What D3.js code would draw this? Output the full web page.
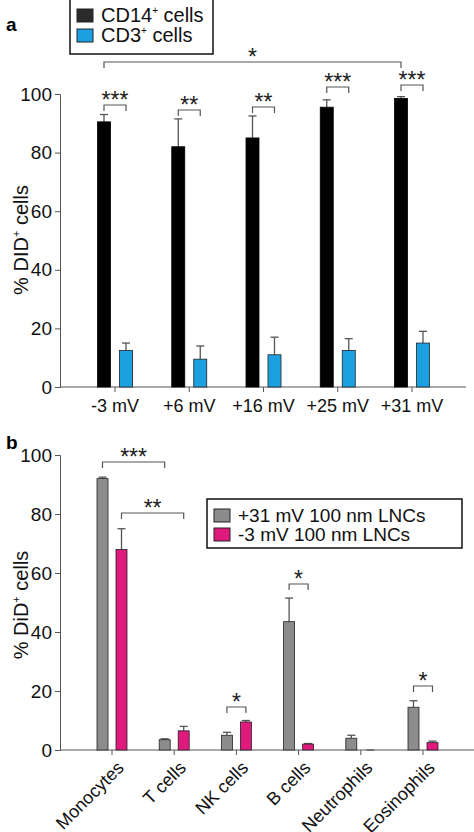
<!DOCTYPE html>
<html><head><meta charset="utf-8">
<script src="https://cdn.jsdelivr.net/npm/d3@7"></script>
<style>body{margin:0;background:#fff}text{font-family:Arial,"Liberation Sans",sans-serif}</style>
</head><body><div id="view"></div>
<script>
// panel a data
var catsA = ["-3 mV","+6 mV","+16 mV","+25 mV","+31 mV"];
var cd14 = [90.5, 82, 85, 95.5, 98.5];
var cd14Err = [2.5, 9.5, 7.5, 2.5, 0.6];
var cd3 = [12.5, 9.5, 11, 12.5, 15];
var cd3Err = [2.5, 4.5, 6, 4, 4];
var sigA = ["***","**","**","***","***"];
var sigAy = [105, 110, 107, 87, 85];
// panel b data
var catsB = ["Monocytes","T cells","NK cells","B cells","Neutrophils","Eosinophils"];
var pos31 = [92, 3.5, 5, 43.5, 4, 14.5];
var pos31Err = [0.5, 0.3, 1, 8, 1, 2.2];
var neg3 = [68, 6.5, 9.5, 2, 0, 2.5];
var neg3Err = [7, 1.5, 0.5, 0.2, 0, 0.5];
var ticks = [0, 20, 40, 60, 80, 100];

var svg = d3.select("#view").append("svg").attr("width", 474).attr("height", 832);
var ink = "#555";

function panel(o) {
	var g = svg.append("g");
	var x = d3.scalePoint().domain(o.cats).range([o.x0, o.x1]);
	var y = d3.scaleLinear().domain([0, 100]).range([o.yb, o.yt]);
	// y axis
	var ya = g.append("g").attr("transform", "translate(60,0)")
		.call(d3.axisLeft(y).tickValues(ticks).tickSize(5).tickPadding(3));
	ya.selectAll("text").style("font-size", "19px").attr("fill", "#111");
	ya.selectAll("line,path").attr("stroke", ink);
	// x axis line + ticks
	g.append("line").attr("x1", 60).attr("x2", o.xe).attr("y1", y(0)).attr("y2", y(0)).attr("stroke", ink);
	g.selectAll(".xt").data(o.cats).enter().append("line")
		.attr("x1", function(d){return x(d);}).attr("x2", function(d){return x(d);})
		.attr("y1", y(0)).attr("y2", y(0) + 5).attr("stroke", ink);
	// bars
	[[o.s1, o.e1, o.c1, -o.off], [o.s2, o.e2, o.c2, o.off]].forEach(function(s) {
		var bw = o.bw;
		g.selectAll(null).data(o.cats).enter().append("line")
			.attr("x1", function(d){return x(d)+s[3];}).attr("x2", function(d){return x(d)+s[3];})
			.attr("y1", function(d,i){return y(s[0][i]);}).attr("y2", function(d,i){return y(s[0][i]+s[1][i]);})
			.attr("stroke", ink).attr("stroke-width", 1.3);
		g.selectAll(null).data(o.cats).enter().append("line")
			.attr("x1", function(d){return x(d)+s[3]-4;}).attr("x2", function(d){return x(d)+s[3]+4;})
			.attr("y1", function(d,i){return y(s[0][i]+s[1][i]);}).attr("y2", function(d,i){return y(s[0][i]+s[1][i]);})
			.attr("stroke", ink).attr("stroke-width", 1.3);
		g.selectAll(null).data(o.cats).enter().append("rect")
			.attr("x", function(d){return x(d)+s[3]-bw/2;}).attr("width", bw)
			.attr("y", function(d,i){return y(s[0][i]);})
			.attr("height", function(d,i){return y(0)-y(s[0][i]);})
			.attr("fill", s[2]).attr("stroke", s[2] === "#000" ? "#000" : "#222").attr("stroke-width", 0.8);
	});
	return {x: x, y: y, g: g};
}

function bracket(g, x1, x2, yy, label) {
	g.append("path").attr("d", "M" + x1 + "," + (yy + 6) + "V" + yy + "H" + x2 + "V" + (yy + 6))
		.attr("fill", "none").attr("stroke", ink).attr("stroke-width", 1.2);
	g.append("text").attr("x", (x1 + x2) / 2).attr("y", yy + 3).attr("text-anchor", "middle")
		.style("font-size", "23px").attr("fill", "#222").text(label);
}

function legend(g, bx, by, bw, bh, items, fs, sw) {
	g.append("rect").attr("x", bx).attr("y", by).attr("width", bw).attr("height", bh)
		.attr("fill", "#fff").attr("stroke", "#111").attr("stroke-width", 1.5);
	items.forEach(function(it, i) {
		var yy = by + 7 + i * sw;
		g.append("rect").attr("x", bx + 7).attr("y", yy + 3).attr("width", 16).attr("height", 13)
			.attr("fill", it[0]).attr("stroke", "#222");
		var t = g.append("text").attr("x", bx + 31).attr("y", yy + 16).style("font-size", fs + "px").attr("fill", "#111");
		t.append("tspan").text(it[1]);
		if (it[2]) t.append("tspan").attr("dy", -8).style("font-size", "10px").text(it[2]);
		if (it[3]) t.append("tspan").attr("dy", 8).text(it[3]);
	});
}

function ylab(g, cy, main) {
	var t = g.append("text").attr("transform", "translate(28," + cy + ") rotate(-90)")
		.attr("text-anchor", "middle").style("font-size", "20px").attr("fill", "#111");
	t.append("tspan").text(main);
	t.append("tspan").attr("dy", -8).style("font-size", "11px").text("+");
	t.append("tspan").attr("dy", 8).text(" cells");
}

// ---- panel a
var A = panel({cats: catsA, x0: 115, x1: 412, xe: 466, yb: 387, yt: 94,
	s1: cd14, e1: cd14Err, c1: "#000", s2: cd3, e2: cd3Err, c2: "#1ba1e2", off: 11, bw: 13});
A.g.selectAll(".xl").data(catsA).enter().append("text")
	.attr("x", function(d){return A.x(d);}).attr("y", 412).attr("text-anchor", "middle")
	.style("font-size", "18px").attr("fill", "#111").text(function(d){return d;});
catsA.forEach(function(c, i) { bracket(A.g, A.x(c) - 11, A.x(c) + 11, sigAy[i], sigA[i]); });
bracket(A.g, A.x(catsA[0]) - 11, A.x(catsA[4]) - 11, 62, "*");
legend(A.g, 70, -1, 143, 55, [["#2b2b2b", "CD14", "+", " cells"], ["#1ba1e2", "CD3", "+", " cells"]], 20, 20);
ylab(A.g, 240, "% DID");
A.g.append("text").attr("x", 6).attr("y", 31).style("font-size", "19px").style("font-weight", "bold").text("a");

// ---- panel b
var B = panel({cats: catsB, x0: 112, x1: 423, xe: 474, yb: 750, yt: 455,
	s1: pos31, e1: pos31Err, c1: "#8c8c8c", s2: neg3, e2: neg3Err, c2: "#e0197d", off: 9.5, bw: 11});
B.g.selectAll(".xl").data(catsB).enter().append("text")
	.attr("transform", function(d){return "translate(" + (B.x(d) + 4) + ",760) rotate(-45)";})
	.attr("text-anchor", "end").attr("dy", "0.7em")
	.style("font-size", "18px").attr("fill", "#111").text(function(d){return d;});
var bx = B.x;
bracket(B.g, bx("Monocytes") - 9.5, bx("T cells") - 9.5, 462, "***");
bracket(B.g, bx("Monocytes") + 9.5, bx("T cells") + 9.5, 513, "**");
bracket(B.g, bx("NK cells") - 9.5, bx("NK cells") + 9.5, 707, "*");
bracket(B.g, bx("B cells") - 9.5, bx("B cells") + 9.5, 584, "*");
bracket(B.g, bx("Eosinophils") - 9.5, bx("Eosinophils") + 9.5, 686, "*");
legend(B.g, 207, 499, 255, 49, [["#8c8c8c", "+31 mV 100 nm LNCs"], ["#e0197d", "-3 mV 100 nm LNCs"]], 19, 19);
ylab(B.g, 605, "% DiD");
B.g.append("text").attr("x", 6).attr("y", 449).style("font-size", "19px").style("font-weight", "bold").text("b");
</script></body></html>
